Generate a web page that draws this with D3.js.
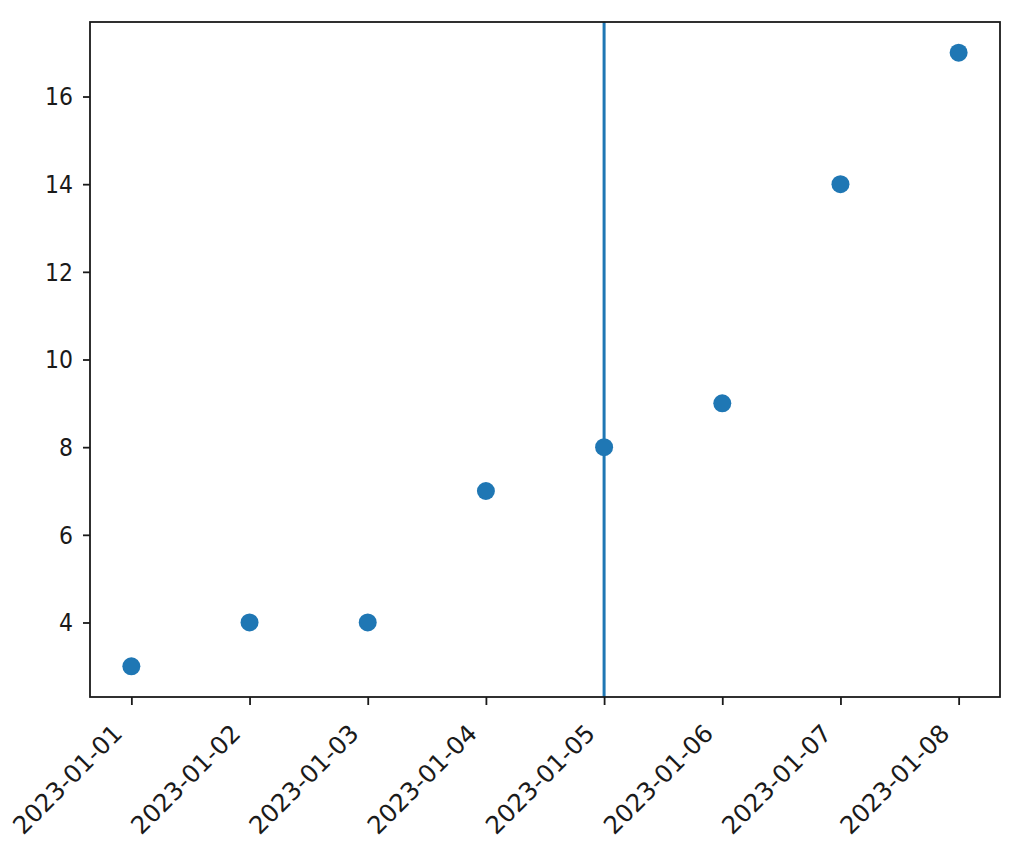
<!DOCTYPE html>
<html><head><meta charset="utf-8">
<script src="https://cdn.jsdelivr.net/npm/d3@7"></script>
<style>body{margin:0;background:#fff}svg{display:block}text{font-family:"DejaVu Sans",sans-serif;fill:#1a1a1a}</style>
</head><body><svg id="c" width="1024" height="850"></svg>
<script>
const dates = ["2023-01-01","2023-01-02","2023-01-03","2023-01-04","2023-01-05","2023-01-06","2023-01-07","2023-01-08"];
const values = [3,4,4,7,8,9,14,17];
const vlineDate = "2023-01-05";
const yTicks = [4,6,8,10,12,14,16];

const parse = d3.utcParse("%Y-%m-%d");
const fmt = d3.utcFormat("%Y-%m-%d");
const svg = d3.select("#c");
const L=90, R=1000, T=22, B=697;
const xd = dates.map(parse);
const span = xd[xd.length-1]-xd[0];
const x = d3.scaleUtc().domain([new Date(+xd[0]-span*0.05), new Date(+xd[xd.length-1]+span*0.05)]).range([L,R]);
const ymin = d3.min(values), ymax = d3.max(values), yr = ymax-ymin;
const y = d3.scaleLinear().domain([ymin-yr*0.05, ymax+yr*0.05]).range([B,T]);

const g = svg.append("g");
svg.append("defs").append("clipPath").attr("id","clip").append("rect").attr("x",L).attr("y",T).attr("width",R-L).attr("height",B-T);

// vertical line
g.append("line").attr("clip-path","url(#clip)")
 .attr("x1",x(parse(vlineDate))).attr("x2",x(parse(vlineDate)))
 .attr("y1",T).attr("y2",B).attr("stroke","#1f77b4").attr("stroke-width",3);

// points
g.selectAll("circle.pt").data(values).join("circle").attr("class","pt")
 .attr("cx",(d,i)=>x(xd[i])).attr("cy",d=>y(d)).attr("r",9).attr("fill","#1f77b4");

// y axis
const ya = svg.append("g").attr("transform",`translate(${L},0)`)
 .call(d3.axisLeft(y).tickValues(yTicks).tickSize(7).tickPadding(10).tickFormat(d3.format("d")));
ya.select(".domain").remove();
ya.selectAll("line").attr("stroke","#1a1a1a").attr("stroke-width",1.8);
ya.selectAll(".tick text").style("font-size","22px").attr("fill","#1a1a1a")
 .attr("x",null).attr("dy",null).attr("dominant-baseline","central")
 .attr("transform","translate(-17,0) scale(1,1.1)");

// x axis
const xa = svg.append("g").attr("transform",`translate(0,${B})`)
 .call(d3.axisBottom(x).tickValues(xd).tickSize(8).tickFormat(fmt));
xa.select(".domain").remove();
xa.selectAll("line").attr("stroke","#1a1a1a").attr("stroke-width",1.8);
xa.selectAll("text").style("font-size","24.5px").attr("fill","#1a1a1a")
 .attr("text-anchor","end").attr("dy",null).attr("y",null)
 .attr("transform","translate(-8,38) rotate(-45)");

// frame
svg.append("rect").attr("x",L).attr("y",T).attr("width",R-L).attr("height",B-T)
 .attr("fill","none").attr("stroke","#1a1a1a").attr("stroke-width",1.8);
</script></body></html>
